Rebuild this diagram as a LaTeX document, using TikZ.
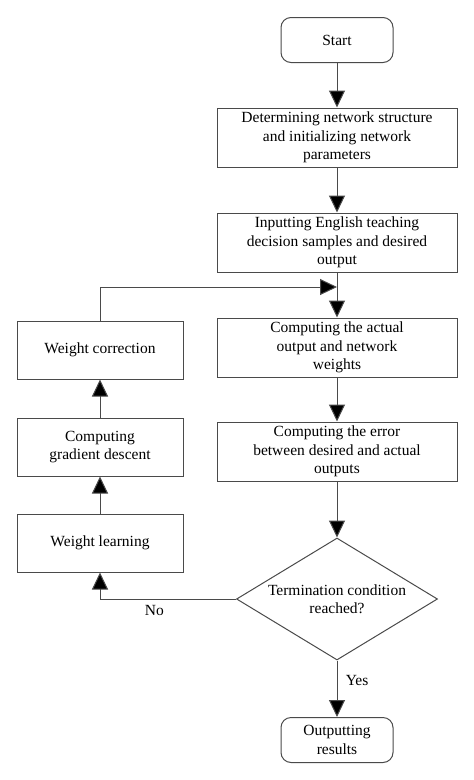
\documentclass[tikz,border=0pt]{standalone}
\usepackage{fontspec}
\setmainfont{Liberation Serif}
\usepackage{xcolor}
\usetikzlibrary{shapes.geometric, arrows.meta, positioning}
\definecolor{linegray}{HTML}{4A4A4A}
\tikzset{
  box/.style={rectangle, draw=linegray, line width=1pt, minimum height=59pt, minimum width=240pt, align=center, font=\fontsize{15.5}{18.5}\selectfont, inner sep=2pt},
  term/.style={box, rounded corners=10pt, minimum width=112pt, minimum height=45pt},
  leftbox/.style={box, minimum width=166pt, minimum height=58pt},
  decision/.style={diamond, draw=linegray, line width=1pt, aspect=1.65, minimum width=201pt, minimum height=122pt, inner sep=0pt, align=center, font=\fontsize{15.5}{18.5}\selectfont},
  arrow/.style={-{Triangle[width=16pt,length=17pt,fill=black]}, draw=linegray, line width=1pt},
  tag/.style={font=\fontsize{15.5}{18.5}\selectfont},
}

\begin{document}
\begin{tikzpicture}[x=1pt, y=-1pt]
    \useasboundingbox (0,0) rectangle (474,780);
    \node[term] (start) at (337,40) {Start};
    \node[box] (init) at (337,137.5) {Determining network structure\\and initializing network\\parameters};
    \node[box] (input) at (337,242.5) {Inputting English teaching\\decision samples and desired\\output};
    \node[box] (actual) at (337,347.5) {Computing the actual\\output and network\\weights};
    \node[box] (error) at (337,451.5) {Computing the error\\between desired and actual\\outputs};
    \node[decision] (check) at (337,599) {Termination condition\\reached?};
    \node[term] (output) at (337,740) {Outputting\\results};
    \node[leftbox] (correct) at (100,350) {Weight correction};
    \node[leftbox] (gradient) at (100,447) {Computing\\gradient descent};
    \node[leftbox] (learn) at (100,543) {Weight learning};
    \coordinate (merge) at (337,287);
    \coordinate (turn) at (100,287);
    \coordinate (nobend) at (100,599);

    \draw[arrow] (start) -- (init);
    \draw[arrow] (init) -- (input);
    \draw[arrow] (input) -- (actual);
    \draw[arrow] (actual) -- (error);
    \draw[arrow] (error) -- (check);
    \draw[arrow] (check) -- node[tag, right=5pt, pos=0.35] {Yes} (output);
    \draw[arrow] (check.west) -- node[tag, below=3pt, pos=0.6] {No} (nobend) -- (learn);
    \draw[arrow] (learn) -- (gradient);
    \draw[arrow] (gradient) -- (correct);
    \draw[arrow] (correct) -- (turn) -- (merge);
  \end{tikzpicture}
\end{document}
